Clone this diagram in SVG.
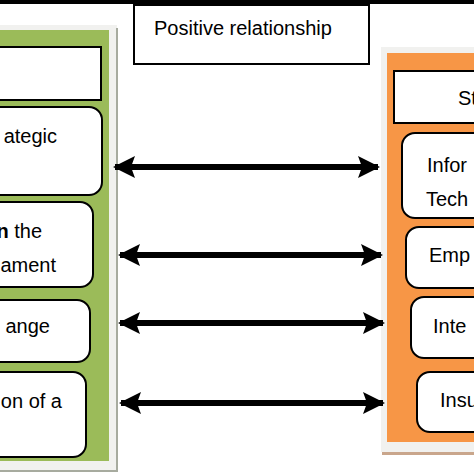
<svg xmlns="http://www.w3.org/2000/svg" width="474" height="474" viewBox="0 0 474 474">
<defs>
<style>
.t{font-family:"Liberation Sans",Arial,sans-serif;font-size:20px;fill:#000}
.box{fill:#fff;stroke:#000;stroke-width:2}
.arr{stroke:#000;stroke-width:6;fill:none}
</style>
<marker id="ah" viewBox="0 0 22 22" refX="20" refY="11" markerWidth="22" markerHeight="22" markerUnits="userSpaceOnUse" orient="auto-start-reverse">
<path d="M0,0 L22,11 L0,22 L4,11 Z" fill="#000"/>
</marker>
</defs>
<rect x="0" y="0" width="474" height="474" fill="#fff"/>
<rect x="0" y="0" width="474" height="4" fill="#000"/>

<g id="title">
<rect x="134" y="5" width="235" height="59" class="box"/>
<text x="154" y="35" class="t" font-size="20.4">Positive relationship</text>
</g>

<g id="left-panel">
<rect x="-10" y="25" width="127" height="446" fill="#f1f1ef"/>
<line x1="117" y1="28" x2="117" y2="472" stroke="#a7ab9f" stroke-width="2"/>
<line x1="0" y1="471" x2="117" y2="471" stroke="#a7ab9f" stroke-width="2"/>
<rect x="-10" y="30" width="119" height="431" fill="#9bbb59"/>
</g>
<g id="left-header">
<rect x="-10" y="47" width="111" height="53" class="box"/>
</g>
<g id="left-1">
<rect x="-30" y="107" width="132" height="88" rx="13" class="box"/>
<text x="57" y="143" class="t" text-anchor="end">ategic</text>
</g>
<g id="left-2">
<rect x="-30" y="202" width="123" height="85" rx="13" class="box"/>
<text x="42" y="238" class="t" text-anchor="end"><tspan font-weight="bold">n</tspan> the</text>
<text x="56" y="272" class="t" text-anchor="end">ament</text>
</g>
<g id="left-3">
<rect x="-30" y="300" width="120" height="62" rx="13" class="box"/>
<text x="50" y="333" class="t" text-anchor="end">ange</text>
</g>
<g id="left-4">
<rect x="-30" y="372" width="116" height="85" rx="13" class="box"/>
<text x="62" y="408" class="t" text-anchor="end">on of a</text>
</g>

<g id="right-panel">
<rect x="381" y="47" width="100" height="405" fill="#f1f1ef"/>
<rect x="382" y="452" width="100" height="3" fill="#c9a68c"/>
<rect x="387" y="53" width="100" height="389" fill="#f79646"/>
</g>
<g id="right-header">
<rect x="394" y="71" width="100" height="52" class="box"/>
<text x="458" y="105" class="t">St</text>
</g>
<g id="right-1">
<rect x="402" y="133" width="120" height="85" rx="13" class="box"/>
<text x="427" y="172" class="t">Infor</text>
<text x="426" y="206" class="t">Tech</text>
</g>
<g id="right-2">
<rect x="406" y="227" width="120" height="61" rx="13" class="box"/>
<text x="429" y="262" class="t">Emp</text>
</g>
<g id="right-3">
<rect x="411" y="297" width="120" height="61" rx="13" class="box"/>
<text x="433" y="333" class="t">Inte</text>
</g>
<g id="right-4">
<rect x="417" y="372" width="120" height="60" rx="13" class="box"/>
<text x="440" y="407" class="t">Insu</text>
</g>

<g id="connectors">
<line x1="115" y1="167" x2="378" y2="167" class="arr" marker-start="url(#ah)" marker-end="url(#ah)"/>
<line x1="120" y1="255" x2="381" y2="255" class="arr" marker-start="url(#ah)" marker-end="url(#ah)"/>
<line x1="120" y1="323" x2="383" y2="323" class="arr" marker-start="url(#ah)" marker-end="url(#ah)"/>
<line x1="121" y1="403" x2="383" y2="403" class="arr" marker-start="url(#ah)" marker-end="url(#ah)"/>
</g>
</svg>
